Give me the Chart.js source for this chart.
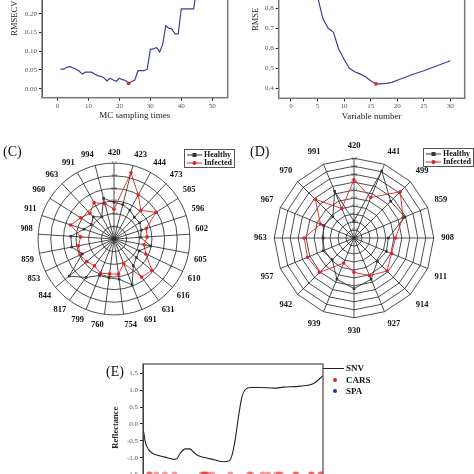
<!DOCTYPE html>
<html>
<head>
<meta charset="utf-8">
<script src="https://cdn.jsdelivr.net/npm/chart.js@4.4.1/dist/chart.umd.min.js"></script>
<style>
  html, body { margin: 0; padding: 0; background: #fff; }
  #wrap { position: relative; width: 474px; height: 474px; overflow: hidden; font-family: 'Liberation Serif', 'DejaVu Serif', serif; color: #111; }
  canvas { position: absolute; }
  .tag { position: absolute; font-size: 14px; line-height: 14px; }
  .legend { position: absolute; background: #fff; border: 1px solid #555; font-weight: bold; font-size: 8px; line-height: 8px; padding: 1px 2px 0 2px; white-space: nowrap; }
  .legend svg { vertical-align: middle; margin-right: 2px; }
  .eleg { position: absolute; font-weight: bold; font-size: 9px; line-height: 10px; white-space: nowrap; }
</style>
</head>
<body>
<div id="wrap">
  <canvas id="cA" width="237" height="205" style="left:0px; top:-80px;"></canvas>
  <canvas id="cB" width="237" height="205" style="left:237px; top:-80px;"></canvas>
  <canvas id="cC" width="188" height="188" style="left:21px; top:145px;"></canvas>
  <canvas id="cD" width="200" height="200" style="left:254px; top:138px;"></canvas>
  <canvas id="cE" width="240" height="150" style="left:100px; top:355px;"></canvas>

  <div class="tag" style="left:3px; top:145px;">(C)</div>
  <div class="tag" style="left:250px; top:145px;">(D)</div>
  <div class="tag" style="left:106px; top:365px;">(E)</div>

  <div class="legend" style="left:184px; top:149px;">
    <div><svg width="15" height="6"><line x1="0" y1="3" x2="15" y2="3" stroke="#333" stroke-width="1"/><rect x="5.5" y="1" width="4" height="4" fill="#333"/></svg>Healthy</div>
    <div><svg width="15" height="6"><line x1="0" y1="3" x2="15" y2="3" stroke="#e02424" stroke-width="1"/><circle cx="7.5" cy="3" r="2" fill="#e02424"/></svg>Infected</div>
  </div>
  <div class="legend" style="left:423px; top:148px;">
    <div><svg width="15" height="6"><line x1="0" y1="3" x2="15" y2="3" stroke="#333" stroke-width="1"/><rect x="5.5" y="1" width="4" height="4" fill="#333"/></svg>Healthy</div>
    <div><svg width="15" height="6"><line x1="0" y1="3" x2="15" y2="3" stroke="#e02424" stroke-width="1"/><circle cx="7.5" cy="3" r="2" fill="#e02424"/></svg>Infected</div>
  </div>

  <div style="position:absolute; left:323px; top:368px; width:21px; height:1.3px; background:#222;"></div>
  <div class="eleg" style="left:346px; top:363px;">SNV</div>
  <div style="position:absolute; left:333px; top:378px; width:4px; height:4px; border-radius:50%; background:#e02424;"></div>
  <div class="eleg" style="left:346px; top:375px;">CARS</div>
  <div style="position:absolute; left:333px; top:389px; width:4px; height:4px; border-radius:50%; background:#2233bb;"></div>
  <div class="eleg" style="left:346px; top:386px;">SPA</div>
</div>

<script>
// (A) CARS: RMSECV against Monte Carlo sampling runs
const mcTimes = [1, 2, 3, 4, 5, 6, 7, 8, 9, 10, 11, 12, 13, 14, 15, 16, 17, 18, 19, 20, 21, 22, 23,
                 24, 25, 26, 27, 28, 29, 30, 31, 32, 33, 34, 35, 36, 37, 38, 39, 40, 41, 42, 43, 44, 45];
const rmsecv = [0.052, 0.052, 0.057, 0.059, 0.056, 0.052, 0.047, 0.039, 0.044, 0.044, 0.044, 0.039,
                0.035, 0.033, 0.029, 0.021, 0.028, 0.023, 0.020, 0.028, 0.024, 0.022, 0.014, 0.019,
                0.023, 0.048, 0.048, 0.048, 0.052, 0.105, 0.106, 0.110, 0.098, 0.118, 0.168, 0.161,
                0.159, 0.146, 0.146, 0.213, 0.213, 0.213, 0.213, 0.213, 0.27];
const cvBest = [23];
const cvBestValue = [0.014];
const aXTicks = [0, 10, 20, 30, 40, 50];
const aYTicks = [0.00, 0.05, 0.10, 0.15, 0.20, 0.25, 0.30, 0.35];

// (B) SPA: RMSE against number of variables
const varNumber = [1, 2, 3, 4, 5, 6, 7, 8, 9, 10, 11, 12, 13, 14, 15, 16, 17, 18, 19, 20,
                   21, 22, 23, 24, 25, 26, 27, 28, 29, 30];
const rmse = [1.6, 1.3, 1.12, 1.0, 0.86, 0.75, 0.70, 0.68, 0.595, 0.545, 0.50, 0.483, 0.472, 0.458,
              0.438, 0.422, 0.422, 0.425, 0.43, 0.44, 0.45, 0.46, 0.47, 0.479, 0.488, 0.498,
              0.508, 0.518, 0.528, 0.538];
const rmseBest = [16];
const rmseBestValue = [0.422];
const bXTicks = [0, 5, 10, 15, 20, 25, 30];
const bYTicks = [0.4, 0.5, 0.6, 0.7, 0.8, 0.9, 1.0, 1.1];

// (C) wavelengths chosen by CARS
const carsBands = ['420', '423', '444', '473', '505', '596', '602', '605', '610', '616', '631', '691', '754',
                   '760', '799', '817', '844', '853', '859', '908', '911', '960', '963', '991', '994'];
const carsHealthy = [-0.05, -0.1, -0.2, -0.32, -0.3, -0.36, -0.45, -0.03, -0.4, -0.35, -0.2, 0.45, 0.1,
                     0.05, 0.05, 0.38, 0.8, -0.12, 0.2, 0.21, -0.25, -0.44, -0.3, -0.5, 0.16];
const carsInfected = [-0.32, 1.2, 0.49, 0.05, 0.47, -0.16, -0.19, -0.29, -0.11, 0.45, 0.36, -0.46, -0.1,
                      -0.11, -0.05, -0.19, -0.1, -0.02, -0.07, -0.18, 0.3, 0.06, -0.11, 0.14, -0.06];

// (D) wavelengths chosen by SPA
const spaBands = ['420', '441', '499', '859', '908', '911', '914', '927', '930', '939', '942', '957',
                  '963', '967', '970', '991'];
const spaHealthy = [-0.58, 0.82, 0.3, 0.38, -0.14, -0.12, -0.17, 0.12, 0.27, 0.12, -0.23, -0.16,
                    -0.23, -0.17, -0.25, 0.27];
const spaInfected = [0.46, 0.10, 0.64, 0.33, 0.04, 0.02, 0.17, 0.02, -0.14, -0.32, 0.22, 0.26,
                     0.25, -0.09, 0.37, -0.2];

// (E) SNV spectrum with selected bands
const wavelength = [402, 408, 419, 436, 458, 480, 502, 513, 524, 541, 556, 569, 580, 602, 636, 669,
                    686, 697, 708, 719, 730, 741, 758, 791, 836, 869, 924, 969, 1000];
const snv = [-0.23, -0.55, -0.77, -0.89, -0.95, -1.0, -1.05, -1.03, -0.87, -0.74, -0.74, -0.84, -0.92,
             -0.99, -1.06, -1.12, -1.10, -0.92, -0.43, 0.26, 0.81, 1.02, 1.08, 1.08, 1.06, 1.09, 1.12,
             1.20, 1.43];
const carsRow = -1.5;
const spaRow = -1.75;
const eYTicks = [-1.5, -1.0, -0.5, 0.0, 0.5, 1.0, 1.5];

const serif = "'Liberation Serif', 'DejaVu Serif', serif";
const lineBlue = '#3d3d9f';
const red = '#e02424';

const framePlugin = {
  id: 'frame',
  afterDatasetsDraw(chart, args, opts) {
    const { ctx, chartArea: a } = chart;
    ctx.save();
    ctx.strokeStyle = opts.color;
    ctx.lineWidth = opts.width;
    ctx.strokeRect(a.left, a.top, a.right - a.left, a.bottom - a.top);
    ctx.restore();
  }
};

const fixWidth = w => s => { s.width = w; s.paddingTop = 0; s.paddingBottom = 0; s.paddingLeft = 0; s.paddingRight = 0; };
const fixHeight = h => s => { s.height = h; s.paddingTop = 0; s.paddingBottom = 0; s.paddingLeft = 0; s.paddingRight = 0; };
const useTicks = list => s => { s.ticks = list.map(v => ({ value: v })); };

const tickFont = { family: serif, size: 7 };
const axisGrid = { display: true, drawOnChartArea: false, tickLength: 3, color: '#222' };

function scanChart(id, xs, ys, bestX, bestY, o) {
  return new Chart(document.getElementById(id), {
    type: 'line',
    data: {
      datasets: [
        { data: bestX.map((x, i) => ({ x, y: bestY[i] })), showLine: false, pointStyle: 'rect',
          pointRadius: 2.3, backgroundColor: red, borderColor: red, borderWidth: 0 },
        { data: xs.map((x, i) => ({ x, y: ys[i] })), borderColor: lineBlue, borderWidth: 1.2,
          pointRadius: 0, tension: 0 }
      ]
    },
    options: {
      responsive: false,
      animation: false,
      layout: { padding: o.padding },
      plugins: { legend: { display: false }, tooltip: { enabled: false }, frame: { color: '#777', width: 1.5 } },
      scales: {
        x: {
          type: 'linear', min: o.xMin, max: o.xMax,
          afterBuildTicks: useTicks(o.xTicks), afterFit: fixHeight(o.xHeight),
          grid: axisGrid, border: { color: '#222' },
          ticks: { font: tickFont, color: '#555', padding: 1 },
          title: { display: true, text: o.xTitle, font: { family: serif, size: 9 }, color: '#222', padding: 0 }
        },
        y: {
          min: o.yMin, max: o.yMax,
          afterBuildTicks: useTicks(o.yTicks), afterFit: fixWidth(o.yWidth),
          grid: axisGrid, border: { color: '#222' },
          ticks: { font: tickFont, color: '#555', padding: 2, callback: v => v.toFixed(o.digits) },
          title: { display: true, text: o.yTitle, font: { family: serif, size: 8.5 }, color: '#222', padding: 0 }
        }
      }
    },
    plugins: [framePlugin]
  });
}

scanChart('cA', mcTimes, rmsecv, cvBest, cvBestValue, {
  padding: { left: 10, right: 9.3, top: 18.7, bottom: 4.2 },
  xMin: -5, xMax: 55, xTicks: aXTicks, xHeight: 23.1, xTitle: 'MC sampling times',
  yMin: -0.024, yMax: 0.4, yTicks: aYTicks, yWidth: 32, yTitle: 'RMSECV', digits: 2
});

scanChart('cB', varNumber, rmse, rmseBest, rmseBestValue, {
  padding: { left: 13.2, right: 9.3, top: 20.3, bottom: 3.2 },
  xMin: -2.3, xMax: 32.7, xTicks: bXTicks, xHeight: 23.5, xTitle: 'Variable number',
  yMin: 0.35, yMax: 1.14, yTicks: bYTicks, yWidth: 28.5, yTitle: 'RMSE', digits: 1
});

function radarChart(id, bands, healthy, infected, o) {
  return new Chart(document.getElementById(id), {
    type: 'radar',
    data: {
      labels: bands,
      datasets: [
        { label: 'Healthy', data: healthy, borderColor: '#333', pointBackgroundColor: '#333',
          pointBorderWidth: 0, pointStyle: 'rect', pointRadius: 1.8, borderWidth: 0.9, fill: false },
        { label: 'Infected', data: infected, borderColor: red, pointBackgroundColor: red,
          pointBorderWidth: 0, pointRadius: 1.8, borderWidth: 0.9, fill: false }
      ]
    },
    options: {
      responsive: false,
      animation: false,
      plugins: { legend: { display: false }, tooltip: { enabled: false } },
      scales: {
        r: {
          min: o.min, max: o.max,
          ticks: { stepSize: o.step, font: { family: serif, size: 5 }, color: '#444',
                   showLabelBackdrop: false, callback: v => v.toFixed(1) },
          grid: { circular: o.circular, color: '#222', lineWidth: 0.8 },
          angleLines: { color: '#222', lineWidth: 0.8 },
          pointLabels: { font: { family: serif, size: 8.5, weight: 'bold' }, color: '#111', padding: o.pad }
        }
      }
    }
  });
}

radarChart('cC', carsBands, carsHealthy, carsInfected, { min: -1.5, max: 1.5, step: 0.5, circular: true, pad: 1 });
radarChart('cD', spaBands, spaHealthy, spaInfected, { min: -1.0, max: 1.0, step: 0.2, circular: false, pad: 3 });

new Chart(document.getElementById('cE'), {
  type: 'line',
  data: {
    datasets: [
      { data: wavelength.map((x, i) => ({ x, y: snv[i] })), borderColor: '#222', borderWidth: 1.1,
        pointRadius: 0, cubicInterpolationMode: 'monotone' },
      { data: carsBands.map(b => ({ x: Number(b), y: carsRow })), showLine: false, pointRadius: 3,
        backgroundColor: 'rgba(232,50,50,0.5)', borderWidth: 0 },
      { data: spaBands.map(b => ({ x: Number(b), y: spaRow })), showLine: false, pointRadius: 3,
        backgroundColor: 'rgba(34,51,187,0.5)', borderWidth: 0 }
    ]
  },
  options: {
    responsive: false,
    animation: false,
    layout: { padding: { left: 11, right: 17, top: 9, bottom: 13.6 } },
    plugins: { legend: { display: false }, tooltip: { enabled: false }, frame: { color: '#555', width: 1.3 } },
    scales: {
      x: { type: 'linear', min: 400, max: 1000, display: false },
      y: {
        min: -2.0, max: 1.776,
        afterBuildTicks: useTicks(eYTicks), afterFit: fixWidth(32),
        grid: axisGrid, border: { color: '#222' },
        ticks: { font: tickFont, color: '#555', padding: 2, callback: v => v.toFixed(1) },
        title: { display: true, text: 'Reflectance', font: { family: serif, size: 8.5, weight: 'bold' }, color: '#222', padding: 0 }
      }
    }
  },
  plugins: [framePlugin]
});
</script>
</body>
</html>
